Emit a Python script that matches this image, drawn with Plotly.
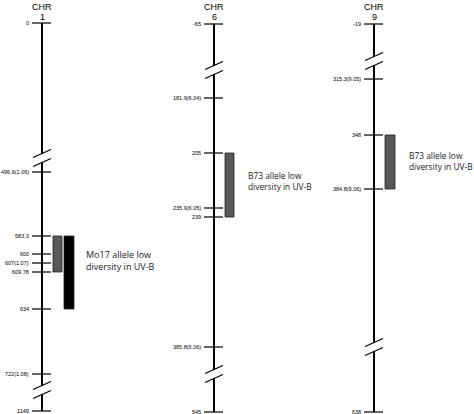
import numpy as np
import plotly.graph_objects as go

# ---------------- data ----------------
chromosomes = ["1", "6", "9"]

chr1_marker_values = [0, 496.6, 583.3, 600, 607, 609.78, 634, 722, 1149]
chr1_marker_labels = ["0", "496.6(1.06)", "583.3", "600", "607(1.07)", "609.78", "634", "722(1.08)", "1149"]

chr6_marker_values = [-65, 181.9, 205, 235.9, 239, 385.8, 545]
chr6_marker_labels = ["-65", "181.9(6.04)", "205", "235.9(6.05)", "239", "385.8(6.06)", "545"]

chr9_marker_values = [-19, 315.3, 348, 384.8, 638]
chr9_marker_labels = ["-19", "315.3(9.05)", "348", "384.8(9.06)", "638"]

region_chroms = ["1", "1", "6", "9"]
region_starts = [583.3, 583.3, 205, 348]
region_ends = [609.78, 634, 239, 384.8]
region_texts = ["Mo17 allele low<br>diversity in UV-B", "",
                "B73 allele low<br>diversity in UV-B", "B73 allele low<br>diversity in UV-B"]

# ---------------- layout (schematic, broken scale) ----------------
W, H = 474, 414
chrom_x = {"1": 42, "6": 214, "9": 374}
# display anchors for the schematic piecewise scale (figure units)
scale_disp = {
    "1": [23, 172, 236, 254, 263, 272, 309, 374, 411],
    "6": [24, 98, 153, 208, 217, 347, 412],
    "9": [24, 79, 135, 189, 412],
}
breaks_disp = {"1": [158, 390], "6": [70, 374], "9": [61, 347]}
region_x = [(11, 20), (22, 32), (11, 20), (11, 21)]
region_colors = ["#585858", "#000000", "#585858", "#585858"]
region_text_pos = [(84, 260, 9), None, (246, 181, 8.4), (407, 161, 8.4)]

markers = {
    "1": (chr1_marker_values, chr1_marker_labels),
    "6": (chr6_marker_values, chr6_marker_labels),
    "9": (chr9_marker_values, chr9_marker_labels),
}


def ymap(c, v):
    vals = markers[c][0]
    return float(np.interp(v, vals, scale_disp[c]))


fig = go.Figure()
shapes = []
annotations = []
FONT = "Liberation Sans"

for c in chromosomes:
    x0 = chrom_x[c]
    vals, labs = markers[c]
    ytop, ybot = ymap(c, vals[0]), ymap(c, vals[-1])
    # chromosome line with gaps at the breaks
    segs = [ytop]
    for b in breaks_disp[c]:
        segs += [b - 4, b + 4]
    segs.append(ybot)
    for i in range(0, len(segs), 2):
        shapes.append(dict(type="line", xref="x", yref="y", x0=x0, x1=x0,
                           y0=segs[i], y1=segs[i + 1],
                           line=dict(color="black", width=2)))
    # break marks
    for b in breaks_disp[c]:
        for d in (-4.5, 4.5):
            shapes.append(dict(type="line", xref="x", yref="y",
                               x0=x0 - 9, x1=x0 + 9, y0=b + d + 4, y1=b + d - 4,
                               line=dict(color="black", width=1.3)))
    # ticks and labels
    for v, lab in zip(vals, labs):
        y = ymap(c, v)
        shapes.append(dict(type="line", xref="x", yref="y", x0=x0 - 10, x1=x0 + 9,
                           y0=y, y1=y, line=dict(color="black", width=1.2)))
        annotations.append(dict(x=x0 - 11, y=y, xref="x", yref="y", text=lab,
                                showarrow=False, xanchor="right", yanchor="middle",
                                font=dict(family=FONT, size=5.5, color="black")))
    # CHR header
    annotations.append(dict(x=x0, y=7, xref="x", yref="y", text="CHR", showarrow=False,
                            xanchor="center", yanchor="middle",
                            font=dict(family=FONT, size=9, color="black")))
    annotations.append(dict(x=x0, y=17, xref="x", yref="y", text=c, showarrow=False,
                            xanchor="center", yanchor="middle",
                            font=dict(family=FONT, size=9, color="black")))

for i, c in enumerate(region_chroms):
    x0 = chrom_x[c]
    y0, y1 = ymap(c, region_starts[i]), ymap(c, region_ends[i])
    shapes.append(dict(type="rect", xref="x", yref="y",
                       x0=x0 + region_x[i][0], x1=x0 + region_x[i][1], y0=y0, y1=y1,
                       fillcolor=region_colors[i], line=dict(color="#222222", width=0.8)))
    if region_texts[i]:
        tx, ty, fs = region_text_pos[i]
        annotations.append(dict(x=tx, y=ty, xref="x", yref="y", text=region_texts[i],
                                showarrow=False, xanchor="left", yanchor="middle", align="left",
                                font=dict(family="Open Sans", size=fs, color="#222222")))

fig.add_trace(go.Scatter(x=[0, W], y=[0, H], mode="markers",
                         marker=dict(opacity=0), hoverinfo="skip", showlegend=False))

fig.update_layout(
    width=W, height=H, margin=dict(l=0, r=0, t=0, b=0),
    paper_bgcolor="white", plot_bgcolor="white",
    shapes=shapes, annotations=annotations, showlegend=False,
    xaxis=dict(range=[0, W], visible=False, fixedrange=True),
    yaxis=dict(range=[H, 0], visible=False, fixedrange=True),
)

fig.write_html("out.html", config={"displayModeBar": False},
               post_script="document.body.style.margin='0';document.body.style.overflow='hidden';")
